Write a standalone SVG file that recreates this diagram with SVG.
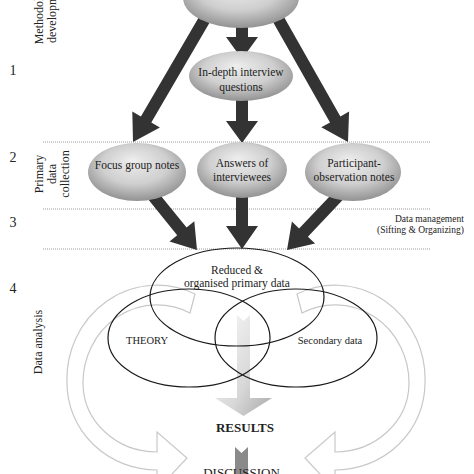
<svg xmlns="http://www.w3.org/2000/svg" width="474" height="474" viewBox="0 0 474 474">
<defs>
<radialGradient id="g" cx="0.5" cy="0.42" r="0.62" fx="0.45" fy="0.3">
<stop offset="0" stop-color="#eeeeee"/>
<stop offset="0.55" stop-color="#cfcfcf"/>
<stop offset="1" stop-color="#8a8a8a"/>
</radialGradient>
<linearGradient id="lg" x1="0" y1="0" x2="1" y2="1">
<stop offset="0" stop-color="#fafafa"/>
<stop offset="0.6" stop-color="#d8d8d8"/>
<stop offset="1" stop-color="#a8a8a8"/>
</linearGradient>
<style>
text{font-family:"Liberation Serif","Times New Roman",serif;fill:#222}
.n{font-size:11.5px;text-anchor:middle}
.s{font-size:12px;text-anchor:middle}
.num{font-size:14px;text-anchor:middle}
.dot{stroke:#9a9a9a;stroke-width:1;stroke-dasharray:1 1;fill:none}
.da{fill:#333333}
.node{fill:url(#g);stroke:none}
.ov{fill:none;stroke:#1a1a1a;stroke-width:1.2}
.ca{fill:none;stroke:#c8c8c8;stroke-width:1.2}
</style>
</defs>
<rect width="474" height="474" fill="#ffffff"/>

<g id="guides">
<line class="dot" x1="43" y1="142" x2="431" y2="142"/>
<line class="dot" x1="43" y1="209" x2="431" y2="209"/>
<line class="dot" x1="43" y1="249" x2="431" y2="249"/>
</g>

<g id="side-labels">
<text class="s" transform="translate(43,12) rotate(-90)">Methodology</text>
<text class="s" transform="translate(56,12) rotate(-90)">development</text>
<text class="num" x="13" y="75">1</text>
<text class="num" x="13" y="162">2</text>
<text class="s" transform="translate(43,174) rotate(-90)">Primary</text>
<text class="s" transform="translate(56,174) rotate(-90)">data</text>
<text class="s" transform="translate(69,174) rotate(-90)">collection</text>
<text class="num" x="13" y="227">3</text>
<text class="num" x="13" y="293">4</text>
<text class="s" transform="translate(42,342) rotate(-90)">Data analysis</text>
<text x="395" y="222" style="font-size:9.5px">Data management</text>
<text x="377" y="233" style="font-size:9.5px">(Sifting &amp; Organizing)</text>
</g>

<g id="cycle-arrows">
<path id="cycle-left" class="ca" d="M195,294 A90 94 0 0 0 67,383 A90 87 0 0 0 157,470 L157,490 L187,458 L157,432 L157,452 A74 69 0 0 1 83,383 A74 78 0 0 1 190,313 Z"/>
<path id="cycle-right" class="ca" d="M297,294 A90 94 0 0 1 425,383 A90 87 0 0 1 335,470 L335,490 L305,458 L335,432 L335,452 A74 69 0 0 0 409,383 A74 78 0 0 0 302,313 Z"/>
</g>

<g id="connectors">
<polygon class="da" points="204.8,7 140.9,116.5 132.3,111.4 133,142 159.9,127.6 151.3,122.5 215.2,13"/>
<polygon class="da" points="266.8,11 330,122.4 321.3,127.3 348,142 349.1,111.5 340.4,116.4 277.2,5"/>
<polygon class="da" points="236,8 236,37 226,37 242,59 258,37 248,37 248,8"/>
<polygon class="da" points="236,100 236,121 226,121 242,143 258,121 248,121 248,100"/>
<polygon class="da" points="145.3,195.8 177.2,235.2 169.5,241.5 197,250 194.3,221.3 186.6,227.6 154.7,188.2"/>
<polygon class="da" points="236,195 236,226 226,226 242,249 258,226 248,226 248,195"/>
<polygon class="da" points="337.6,187.9 299.1,228.5 291.9,221.6 287,250 315.1,243.6 307.9,236.7 346.4,196.1"/>
</g>

<g id="node-top">
<ellipse class="node" cx="241" cy="-2" rx="58" ry="30"/>
</g>
<g id="node-indepth">
<ellipse class="node" cx="241" cy="76" rx="52" ry="25"/>
<text class="n" x="241" y="76">In-depth interview</text>
<text class="n" x="241" y="91">questions</text>
</g>
<g id="node-focus">
<ellipse class="node" cx="137" cy="172" rx="49" ry="29"/>
<text class="n" x="137" y="169">Focus group notes</text>
</g>
<g id="node-answers">
<ellipse class="node" cx="242" cy="170" rx="45" ry="28"/>
<text class="n" x="242" y="167">Answers of</text>
<text class="n" x="242" y="181">interviewees</text>
</g>
<g id="node-participant">
<ellipse class="node" cx="353" cy="172" rx="48" ry="29"/>
<text class="n" x="354" y="167">Participant-</text>
<text class="n" x="354" y="181">observation notes</text>
</g>

<g id="results-arrow">
<polygon fill="url(#lg)" points="237,315 243.5,321 250,315 250,398 272,398 243.5,416 215,398 237,398"/>
</g>

<g id="node-reduced">
<ellipse class="ov" cx="237" cy="297" rx="87" ry="49"/>
<text class="n" x="237" y="274">Reduced &amp;</text>
<text class="n" x="237" y="287">organised primary data</text>
</g>
<g id="node-theory">
<ellipse class="ov" cx="189" cy="338" rx="81" ry="49"/>
<text x="147" y="344" style="font-size:10.5px;text-anchor:middle">THEORY</text>
</g>
<g id="node-secondary">
<ellipse class="ov" cx="296" cy="338" rx="81" ry="49"/>
<text x="330" y="344" style="font-size:10.5px;text-anchor:middle">Secondary data</text>
</g>

<g id="node-results">
<text x="245" y="432" style="font-size:13px;font-weight:bold;text-anchor:middle">RESULTS</text>
</g>

<g id="node-discussion">
<polygon fill="#8a8a8a" points="235,447 241.5,453 248,447 248,480 235,480"/>
<text x="241.5" y="477" style="font-size:13px;text-anchor:middle">DISCUSSION</text>
</g>
</svg>
